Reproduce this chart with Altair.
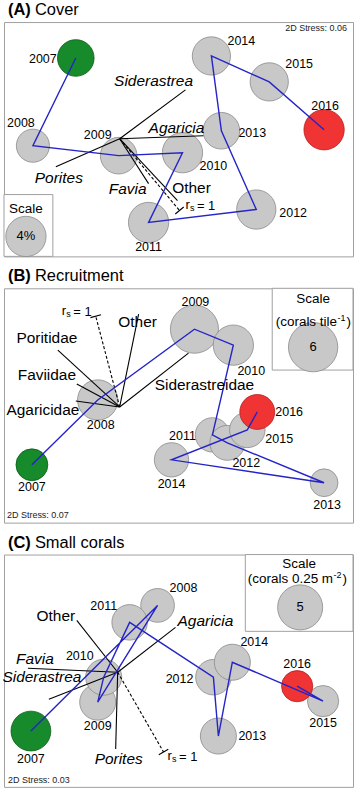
import math
import altair as alt
import pandas as pd

FONT = "Liberation Sans, Arial, Helvetica, sans-serif"
GRAY, GRAY_EDGE = "#c8c8c8", "#8a8a8a"
GREEN, GREEN_EDGE = "#178a2b", "#0d5c19"
RED, RED_EDGE = "#f03434", "#b42020"
BLUE = "#2424c8"
FRAME = "#a0a0a0"

YEARS = [2007, 2008, 2009, 2010, 2011, 2012, 2013, 2014, 2015, 2016]
PANEL_LETTERS = ["(A)", "(B)", "(C)"]
PANEL_NAMES = ["Cover", "Recruitment", "Small corals"]
STRESS = [0.06, 0.07, 0.03]
SCALE_VALUE = [4, 6, 5]
SCALE_TEXT = ["4%", "6", "5"]
SCALE_UNIT = ["", "(corals tile", "(corals 0.25 m"]
SCALE_UNIT_EXP = ["", "-1", "-2"]

# ---------------- (A) Cover ----------------
A_MDS1 = [-1.03, -1.46, -0.60, 0.04, -0.30, 0.78, 0.43, 0.33, 0.91, 1.46]
A_MDS2 = [0.815, -0.065, -0.165, -0.135, -0.835, -0.705, 0.085, 0.835, 0.575, 0.095]
A_VALUE = [3.3, 2.7, 3.3, 4.0, 4.0, 3.8, 3.3, 3.6, 3.6, 4.0]
A_LAB1 = [-1.36, -1.58, -0.81, 0.35, -0.30, 1.15, 0.74, 0.63, 1.21, 1.47]
A_LAB2 = [0.805, 0.165, 0.045, -0.265, -1.085, -0.735, 0.065, 0.985, 0.755, 0.335]
A_VEC_NAMES = ["Siderastrea", "Agaricia", "Porites", "Favia", "Other"]
A_VEC1 = [0.07, 0.25, -1.23, -0.30, -0.01]
A_VEC2 = [0.495, 0.035, -0.275, -0.445, -0.615]
A_VEC_LAB1 = [-0.25, -0.02, -1.20, -0.51, 0.13]
A_VEC_LAB2 = [0.585, 0.115, -0.385, -0.495, -0.485]
A_VEC_ITALIC = [True, True, True, True, False]
A_ORIGIN = [-0.59, 0.005]
A_RS = [0.01, -0.715]
A_RS_LAB = [0.07, -0.655]

# ---------------- (B) Recruitment ----------------
B_MDS1 = [-1.47, -0.81, 0.16, 0.55, 0.34, 0.49, 1.46, -0.07, 0.69, 0.79]
B_MDS2 = [-0.595, 0.055, 0.765, 0.605, -0.295, -0.375, -0.775, -0.545, -0.245, -0.065]
B_VALUE = [2.5, 4.0, 5.7, 4.0, 2.9, 3.0, 1.9, 2.9, 3.1, 3.0]
B_LAB1 = [-1.47, -0.78, 0.17, 0.73, 0.04, 0.68, 1.49, -0.07, 1.01, 1.11]
B_LAB2 = [-0.815, -0.195, 1.035, 0.35, -0.305, -0.575, -0.995, -0.785, -0.335, -0.065]
B_VEC_NAMES = ["Other", "Poritidae", "Faviidae", "Agaricidae", "Siderastreidae"]
B_VEC1 = [-0.40, -1.21, -1.02, -1.03, 0.10]
B_VEC2 = [0.915, 0.555, 0.215, 0.045, 0.525]
B_VEC_LAB1 = [-0.41, -1.32, -1.32, -1.36, 0.26]
B_VEC_LAB2 = [0.835, 0.675, 0.305, -0.045, 0.21]
B_VEC_ITALIC = [False, False, False, False, False]
B_ORIGIN = [-0.59, -0.015]
B_RS = [-0.83, 0.895]
B_RS_LAB = [-1.17, 0.945]

# ---------------- (C) Small corals ----------------
C_MDS1 = [-1.48, -0.21, -0.81, -0.75, -0.49, 0.35, 0.40, 0.54, 1.45, 1.19]
C_MDS2 = [-0.605, 0.655, -0.315, -0.065, 0.485, -0.065, -0.655, 0.085, -0.305, -0.155]
C_VALUE = [3.9, 2.8, 3.2, 3.2, 3.1, 3.1, 3.2, 3.2, 2.4, 2.4]
C_LAB1 = [-1.48, 0.05, -0.81, -0.99, -0.75, 0.01, 0.74, 0.76, 1.45, 1.19]
C_LAB2 = [-0.885, 0.825, -0.555, 0.145, 0.645, -0.085, -0.655, 0.285, -0.525, 0.065]
C_VEC_NAMES = ["Other", "Agaricia", "Favia", "Siderastrea", "Porites"]
C_VEC1 = [-1.02, -0.03, -1.51, -1.30, -0.63]
C_VEC2 = [0.505, 0.435, 0.025, -0.285, -0.785]
C_VEC_LAB1 = [-1.23, 0.27, -1.44, -1.37, -0.60]
C_VEC_LAB2 = [0.545, 0.495, 0.115, -0.065, -0.885]
C_VEC_ITALIC = [False, True, True, True, True]
C_ORIGIN = [-0.61, -0.015]
C_RS = [-0.15, -0.815]
C_RS_LAB = [-0.11, -0.855]

PANELS = [
    (A_MDS1, A_MDS2, A_VALUE, A_LAB1, A_LAB2, A_VEC_NAMES, A_VEC1, A_VEC2,
     A_VEC_LAB1, A_VEC_LAB2, A_VEC_ITALIC, A_ORIGIN, A_RS, A_RS_LAB),
    (B_MDS1, B_MDS2, B_VALUE, B_LAB1, B_LAB2, B_VEC_NAMES, B_VEC1, B_VEC2,
     B_VEC_LAB1, B_VEC_LAB2, B_VEC_ITALIC, B_ORIGIN, B_RS, B_RS_LAB),
    (C_MDS1, C_MDS2, C_VALUE, C_LAB1, C_LAB2, C_VEC_NAMES, C_VEC1, C_VEC2,
     C_VEC_LAB1, C_VEC_LAB2, C_VEC_ITALIC, C_ORIGIN, C_RS, C_RS_LAB),
]

# pixel layout of each panel (plot-area pixels)
LAYOUT = [
    dict(h=235, ref_r=17.5, box=(0, 49, 173, 235), s_title=(22, 187), unit=None,
         circ=(22, 215), stress=(344, 6, "right")),
    dict(h=235, ref_r=19.5, box=(269, 350, 0, 82), s_title=(310, 11), unit=(334, 34),
         circ=(310, 59), stress=(3, 227, "left")),
    dict(h=233, ref_r=20.8, box=(242, 350, 0, 77), s_title=(296, 9), unit=(330, 25),
         circ=(297, 53), stress=(4, 226, "left")),
]

W = 350


def build_panel(i):
    (m1, m2, val, l1, l2, vn, v1, v2, vl1, vl2, vit, org, rs, rslab) = PANELS[i]
    lay = LAYOUT[i]
    h = lay["h"]
    half = h / 200.0
    xs = alt.Scale(domain=[-W / 200.0, W / 200.0], nice=False, zero=False)
    ys = alt.Scale(domain=[-half, half], nice=False, zero=False)

    def X(f):
        return alt.X(f"{f}:Q", scale=xs, axis=None)

    def Y(f):
        return alt.Y(f"{f}:Q", scale=ys, axis=None)

    # symbol area for the reference bubble of the scale legend
    size_scale = alt.Scale(domain=[0, SCALE_VALUE[i]],
                           range=[0, 2 * (2 * lay["ref_r"]) ** 2])

    pts = pd.DataFrame({"year": YEARS, "mds1": m1, "mds2": m2, "value": val,
                        "lab1": l1, "lab2": l2})
    pts["label"] = pts["year"].astype(str)
    pts["kind"] = ["first"] + ["mid"] * 8 + ["last"]

    vec = pd.DataFrame({"name": vn, "ex": v1, "ey": v2, "lx": vl1, "ly": vl2, "italic": vit})
    vec["ox"] = org[0]
    vec["oy"] = org[1]

    dx, dy = rs[0] - org[0], rs[1] - org[1]
    L = math.hypot(dx, dy)
    px, py = -dy / L, dx / L
    t = 0.055
    rsdf = pd.DataFrame({"ox": [org[0]], "oy": [org[1]], "ex": [rs[0]], "ey": [rs[1]],
                         "t1x": [rs[0] + t * px], "t1y": [rs[1] + t * py],
                         "t2x": [rs[0] - t * px], "t2y": [rs[1] - t * py],
                         "lx": [rslab[0]], "ly": [rslab[1]],
                         "r": ["r"], "s": ["s"], "eq": ["= 1"]})

    layers = []
    bx0, bx1, by0, by1 = lay["box"]
    one = pd.DataFrame({"title": ["Scale"], "value": [SCALE_VALUE[i]],
                        "vtext": [SCALE_TEXT[i]], "unit": [SCALE_UNIT[i]],
                        "exp": [SCALE_UNIT_EXP[i]], "close": [")"],
                        "stress": [f"2D Stress: {STRESS[i]:.2f}"],
                        "letter": [PANEL_LETTERS[i]], "pname": [PANEL_NAMES[i]]})

    # scale box
    layers.append(alt.Chart(one).mark_rect(fill="white", stroke=FRAME, strokeWidth=1).encode(
        x=alt.value(bx0), x2=alt.value(bx1), y=alt.value(by0), y2=alt.value(by1)))

    # bubbles
    layers.append(alt.Chart(pts).mark_circle(opacity=1, strokeWidth=0.8).encode(
        x=X("mds1"), y=Y("mds2"),
        size=alt.Size("value:Q", scale=size_scale, legend=None),
        fill=alt.Fill("kind:N", scale=alt.Scale(domain=["first", "mid", "last"],
                                                 range=[GREEN, GRAY, RED]), legend=None),
        stroke=alt.Stroke("kind:N", scale=alt.Scale(domain=["first", "mid", "last"],
                                                     range=[GREEN_EDGE, GRAY_EDGE, RED_EDGE]),
                          legend=None),
    ))

    # vectors
    layers.append(alt.Chart(vec).mark_rule(color="black", strokeWidth=1.1).encode(
        x=X("ox"), y=Y("oy"), x2=alt.X2("ex"), y2=alt.Y2("ey")))
    layers.append(alt.Chart(rsdf).mark_rule(color="black", strokeWidth=1.1,
                                            strokeDash=[3, 2]).encode(
        x=X("ox"), y=Y("oy"), x2=alt.X2("ex"), y2=alt.Y2("ey")))
    layers.append(alt.Chart(rsdf).mark_rule(color="black", strokeWidth=1.1).encode(
        x=X("t1x"), y=Y("t1y"), x2=alt.X2("t2x"), y2=alt.Y2("t2y")))

    # trajectory
    layers.append(alt.Chart(pts).mark_line(color=BLUE, strokeWidth=1.4).encode(
        x=X("mds1"), y=Y("mds2"), order=alt.Order("year:O")))

    # year labels
    layers.append(alt.Chart(pts).mark_text(fontSize=12.5, font=FONT, color="black").encode(
        x=X("lab1"), y=Y("lab2"), text="label:N"))

    # vector labels
    ital = vec[vec["italic"]]
    norm = vec[~vec["italic"]]
    if len(ital):
        layers.append(alt.Chart(ital).mark_text(fontSize=15.5, font=FONT, fontStyle="italic",
                                                color="black").encode(
            x=X("lx"), y=Y("ly"), text="name:N"))
    if len(norm):
        layers.append(alt.Chart(norm).mark_text(fontSize=15.5, font=FONT,
                                                color="black").encode(
            x=X("lx"), y=Y("ly"), text="name:N"))

    # r_s = 1 label
    layers.append(alt.Chart(rsdf).mark_text(fontSize=13, font=FONT, align="left").encode(
        x=X("lx"), y=Y("ly"), text="r:N"))
    layers.append(alt.Chart(rsdf).mark_text(fontSize=9, font=FONT, align="left",
                                            dx=4.5, dy=3).encode(
        x=X("lx"), y=Y("ly"), text="s:N"))
    layers.append(alt.Chart(rsdf).mark_text(fontSize=13, font=FONT, align="left",
                                            dx=11.5, dy=1).encode(
        x=X("lx"), y=Y("ly"), text="eq:N"))

    # stress
    sx, sy, sal = lay["stress"]
    layers.append(alt.Chart(one).mark_text(fontSize=9, font=FONT, align=sal,
                                           color="#222").encode(
        x=alt.value(sx), y=alt.value(sy), text="stress:N"))

    # scale legend
    cx, cy = lay["circ"]
    layers.append(alt.Chart(one).mark_circle(opacity=1, fill=GRAY, stroke=GRAY_EDGE,
                                             strokeWidth=0.8).encode(
        x=alt.value(cx), y=alt.value(cy),
        size=alt.Size("value:Q", scale=size_scale, legend=None)))
    layers.append(alt.Chart(one).mark_text(fontSize=13, font=FONT).encode(
        x=alt.value(cx), y=alt.value(cy), text="vtext:N"))
    tx, ty = lay["s_title"]
    layers.append(alt.Chart(one).mark_text(fontSize=13.5, font=FONT).encode(
        x=alt.value(tx), y=alt.value(ty), text="title:N"))
    if lay["unit"] is not None:
        ux, uy = lay["unit"]
        layers.append(alt.Chart(one).mark_text(fontSize=13.5, font=FONT, align="right").encode(
            x=alt.value(ux), y=alt.value(uy), text="unit:N"))
        layers.append(alt.Chart(one).mark_text(fontSize=9, font=FONT, align="left").encode(
            x=alt.value(ux + 0.5), y=alt.value(uy - 4), text="exp:N"))
        layers.append(alt.Chart(one).mark_text(fontSize=13.5, font=FONT, align="left").encode(
            x=alt.value(ux + 9.5), y=alt.value(uy), text="close:N"))

    # panel title
    layers.append(alt.Chart(one).mark_text(fontSize=16.5, font=FONT, fontWeight="bold",
                                           align="left", baseline="alphabetic").encode(
        x=alt.value(4), y=alt.value(-7), text="letter:N"))
    layers.append(alt.Chart(one).mark_text(fontSize=16.5, font=FONT,
                                           align="left", baseline="alphabetic").encode(
        x=alt.value(31), y=alt.value(-7), text="pname:N"))

    return alt.layer(*layers).properties(width=W, height=h)


chart = alt.vconcat(*[build_panel(i) for i in range(3)], spacing=32, bounds="flush").configure_view(
    stroke=FRAME, strokeWidth=1
).properties(padding={"left": 1, "top": 0, "right": 0, "bottom": 0})

chart.save("out.html", embed_options={"renderer": "svg", "actions": False})
